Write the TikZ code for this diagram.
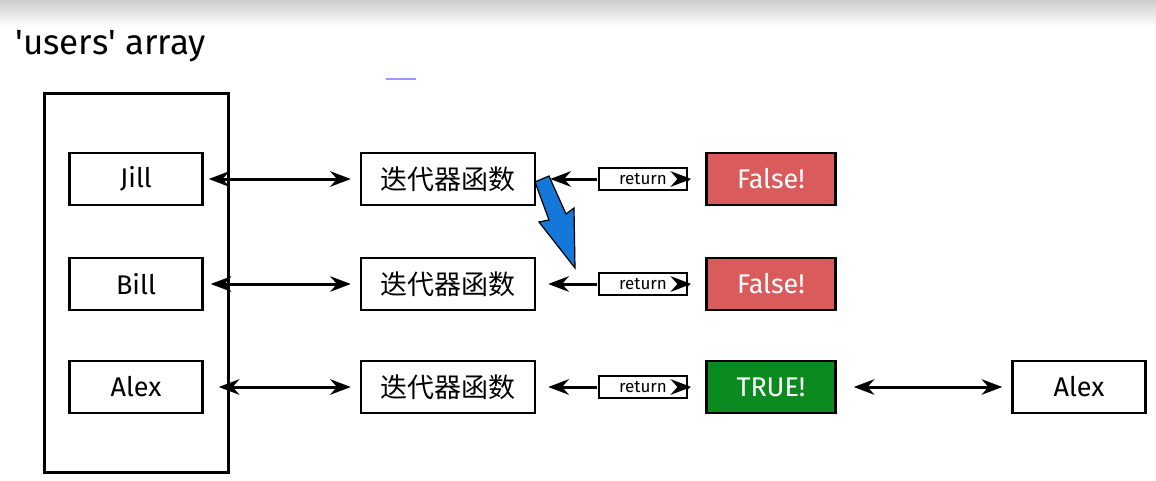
\documentclass[tikz,border=0pt]{standalone}
\usepackage{fontspec}
\setmainfont{Fira Sans}
\newfontfamily\cjk{Noto Sans CJK SC}
\usetikzlibrary{arrows.meta}
\definecolor{fred}{HTML}{D95B5B}
\definecolor{tgreen}{HTML}{0B8A1F}
\definecolor{barrow}{HTML}{1478D8}
\tikzset{
  box/.style={draw, line width=2.4pt, minimum width=#1, minimum height=52pt, inner sep=0pt, font=\fontsize{27}{27}\selectfont},
  box/.default=133pt,
  itbox/.style={box=174pt, font=\cjk\fontsize{27}{27}\selectfont},
  res/.style={box=129pt, text=white},
  ret/.style={draw, line width=2pt, minimum width=88pt, minimum height=22pt, inner sep=0pt, font=\fontsize{17}{17}\selectfont, fill=white},
  ahd/.tip={Stealth[scale=1.25]},
  dbl/.style={ahd-ahd, line width=3pt},
  sgl/.style={-ahd, line width=3pt}
}
\begin{document}
\begin{tikzpicture}[x=1pt,y=-1pt]
\useasboundingbox (0,0) rectangle (1156,480);
\shade[top color=black!20, bottom color=white] (0,0) rectangle (1156,26);
\node[anchor=west, font=\fontsize{35}{35}\selectfont] (title) at (12,46) {\textquotesingle users\textquotesingle\ array};
\draw[blue!40, line width=1.5pt] (386,79) -- (416,79);
\draw[line width=3pt] (44,93) rectangle (228,472);
\foreach \n/\t/\y in {j/Jill/179, b/Bill/284, a/Alex/387}{
  \node[box] (\n) at (136,\y) {\t};
  \node[itbox] (i\n) at (448,\y) {迭代器函数};
  \node[ret] (r\n) at (643,\y) {return};
}
\node[res, fill=fred] (fj) at (771,179) {False!};
\node[res, fill=fred] (fb) at (771,284) {False!};
\node[res, fill=tgreen] (ta) at (771,387) {TRUE!};
\node[box] (alex2) at (1079,387) {Alex};
\draw[dbl] ([xshift=5pt]j.east) -- ([xshift=-9pt]ij.west);
\draw[dbl] ([xshift=7pt]b.east) -- ([xshift=-9pt]ib.west);
\draw[dbl] ([xshift=15pt]a.east) -- ([xshift=-9pt]ia.west);
\draw[sgl] ([xshift=-1pt]rj.west) -- ([xshift=14pt]ij.east);
\draw[sgl] ([xshift=-1pt]rb.west) -- ([xshift=12pt]ib.east);
\draw[sgl] ([xshift=-1pt]ra.west) -- ([xshift=12pt]ia.east);
\foreach \n/\m in {j/fj, b/fb, a/ta}{ \draw[sgl] ([xshift=1pt]r\n.east) -- ([xshift=-14pt]\m.west); }
\draw[dbl] ([xshift=17pt]ta.east) -- ([xshift=-9pt]alex2.west);
\fill[barrow, draw=black, line width=1.2pt] (535,182) -- (549,176) -- (566,214) -- (574,208) -- (575,268) -- (539,222) -- (549,220) -- cycle;
\end{tikzpicture}
\end{document}
